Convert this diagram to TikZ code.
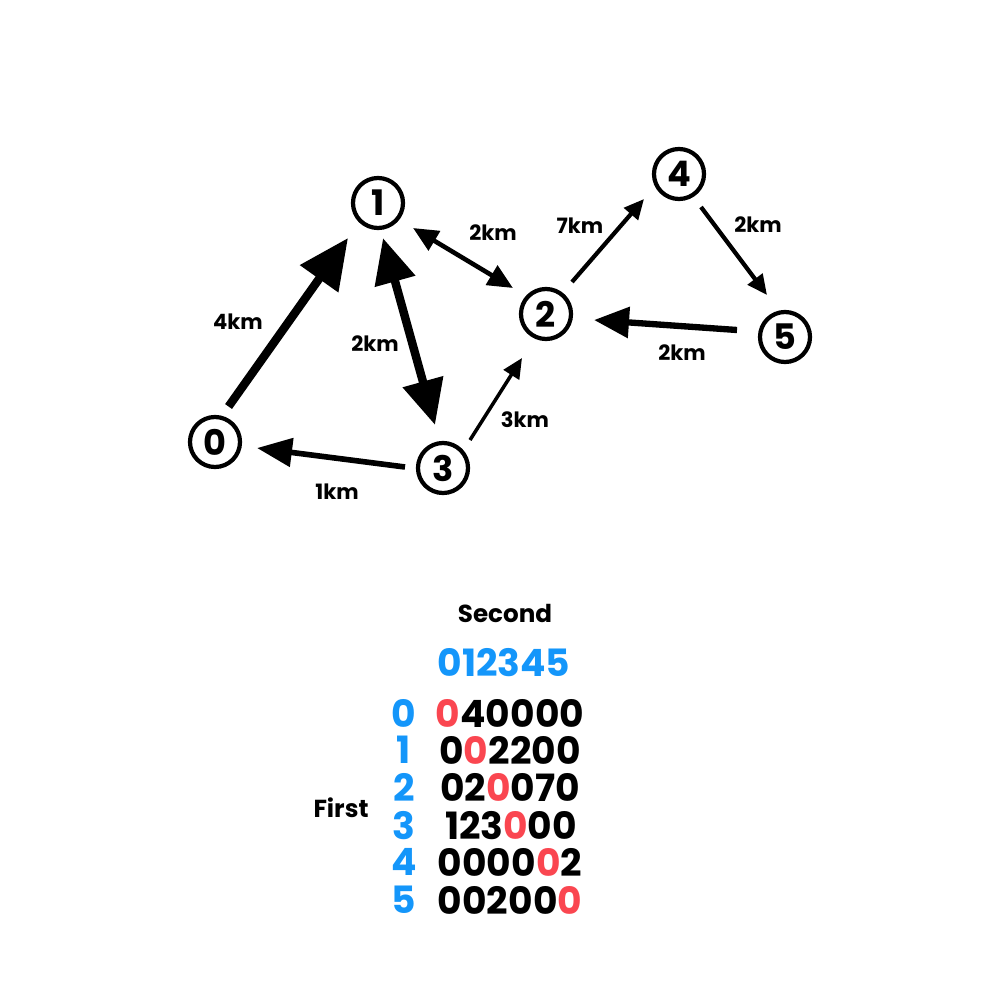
\documentclass[tikz,border=0pt]{standalone}
\usepackage{fontspec}
\setmainfont{Poppins}
\usetikzlibrary{arrows.meta}
\definecolor{bl}{RGB}{20,150,250}
\definecolor{rd}{RGB}{250,70,80}
\tikzset{
 vtx/.style={circle,draw,line width=1.2pt,minimum size=0.5cm,inner sep=0pt,font=\bfseries\fontsize{10}{10}\selectfont},
 lbl/.style={font=\bfseries\fontsize{6}{6}\selectfont},
 row/.style={font=\bfseries\fontsize{10.7}{10.7}\selectfont,inner sep=0pt},
 e/.style={line width=#1}
}
\begin{document}
\begin{tikzpicture}[x=0.01cm,y=-0.01cm]
\useasboundingbox (0,0) rectangle (1000,1000);
\node[vtx] (n1) at (378,203) {1};
\node[vtx] (n2) at (546,314) {2};
\node[vtx] (n4) at (679,174) {4};
\node[vtx] (n5) at (785,337) {5};
\node[vtx] (n0) at (215,442) {0};
\node[vtx] (n3) at (443,468) {3};
\draw[line width=2.4pt,-{Triangle[length=0.5cm,width=0.45cm]}] (n0.60) ++(0,-12) coordinate (a) (a) -- ([shift={(-30,35)}]n1.center);
\draw[line width=2.4pt,{Triangle[length=0.45cm,width=0.4cm]}-{Triangle[length=0.45cm,width=0.4cm]}] ([shift={(5,35)}]n1.center) -- ([shift={(-8,-43)}]n3.center);
\draw[line width=1.3pt,{Triangle[length=0.25cm,width=0.22cm]}-{Triangle[length=0.25cm,width=0.22cm]}] ([shift={(35,25)}]n1.center) -- ([shift={(-33,-26)}]n2.center);
\draw[line width=1.2pt,-{Triangle[length=0.2cm,width=0.18cm]}] ([shift={(26,-32)}]n2.center) -- ([shift={(-35,25)}]n4.center);
\draw[line width=1.2pt,-{Triangle[length=0.2cm,width=0.18cm]}] ([shift={(22,33)}]n4.center) -- ([shift={(-18,-42)}]n5.center);
\draw[line width=1.8pt,-{Triangle[length=0.35cm,width=0.3cm]}] ([shift={(-48,-7)}]n5.center) -- ([shift={(48,6)}]n2.center);
\draw[line width=1pt,-{Triangle[length=0.2cm,width=0.18cm]}] ([shift={(27,-28)}]n3.center) -- ([shift={(-24,44)}]n2.center);
\draw[line width=1.6pt,-{Triangle[length=0.35cm,width=0.28cm]}] ([shift={(-38,-1)}]n3.center) -- ([shift={(42,6)}]n0.center);
\node[lbl] at (238,322) {4km};
\node[lbl] at (375,344) {2km};
\node[lbl] at (493,233) {2km};
\node[lbl] at (580,226) {7km};
\node[lbl] at (758,225) {2km};
\node[lbl] at (682,353) {2km};
\node[lbl] at (525,420) {3km};
\node[lbl] at (337,492) {1km};
\node[lbl,font=\bfseries\fontsize{7}{7}\selectfont] (sec) at (505,613) {Second};
\node[lbl,font=\bfseries\fontsize{7}{7}\selectfont] (fst) at (341,808) {First};
\node[row,text=bl] (hdr) at (504,663) {012345};
\node[row] (r0) at (510,713) {\textcolor{rd}{0}40000};
\node[row] (r1) at (510,750) {0\textcolor{rd}{0}2200};
\node[row] (r2) at (510,787) {02\textcolor{rd}{0}070};
\node[row] (r3) at (511,826) {123\textcolor{rd}{0}00};
\node[row] (r4) at (510,862) {0000\textcolor{rd}{0}2};
\node[row] (r5) at (510,900) {00200\textcolor{rd}{0}};
\foreach \i/\y in {0/713,1/750,2/787,3/826,4/862,5/900}
  \node[row,text=bl] (c\i) at (404,\y) {\i};
\end{tikzpicture}
\end{document}
